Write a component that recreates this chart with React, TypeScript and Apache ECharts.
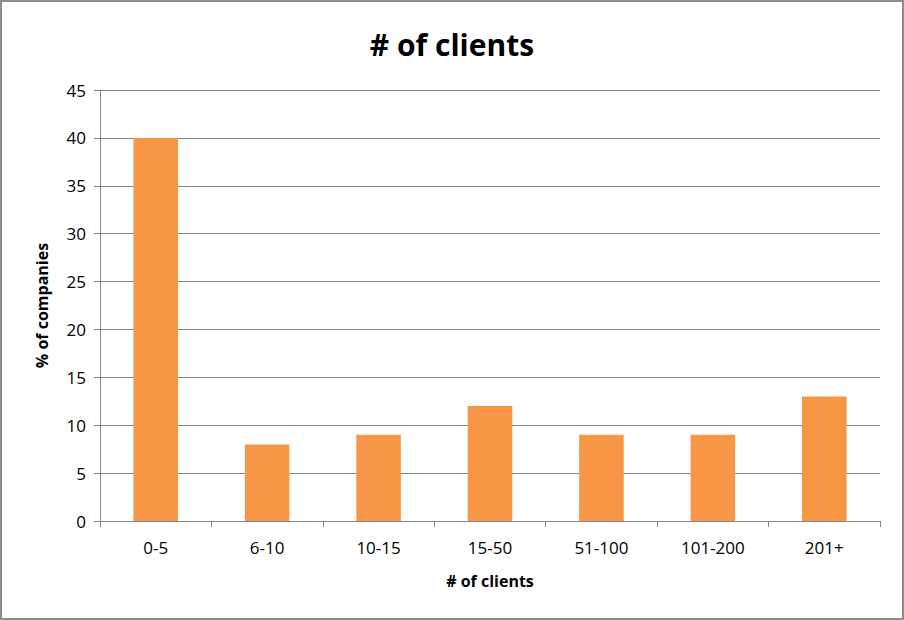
import React, { useEffect, useRef } from "react";
import * as echarts from "echarts";

const categories = ["0-5", "6-10", "10-15", "15-50", "51-100", "101-200", "201+"];
const percentValues = [40, 8, 9, 12, 9, 9, 13];

const App: React.FC = () => {
  const chartRef = useRef<HTMLDivElement | null>(null);

  useEffect(() => {
    const chartDom = chartRef.current;
    if (!chartDom) return;
    const myChart = echarts.init(chartDom, undefined, { renderer: "svg" });

    const font = "'Open Sans', 'Noto Sans', sans-serif";
    const gray = "#868686";

    const option = {
      animation: false,
      backgroundColor: "transparent",
      title: {
        text: "# of clients",
        left: "center",
        top: 24,
        textStyle: {
          fontFamily: font,
          fontSize: 30,
          fontWeight: "bold",
          color: "#000000",
        },
      },
      grid: {
        left: 100,
        right: 24,
        top: 90,
        bottom: 99,
        containLabel: false,
      },
      xAxis: {
        type: "category",
        data: categories,
        name: "# of clients",
        nameLocation: "middle",
        nameGap: 52,
        nameTextStyle: {
          fontFamily: font,
          fontSize: 16,
          fontWeight: "bold",
          color: "#000000",
        },
        axisLine: { lineStyle: { color: gray, width: 1 } },
        axisTick: { show: true, alignWithLabel: false, length: 6, lineStyle: { color: gray } },
        axisLabel: {
          fontFamily: font,
          fontSize: 17,
          color: "#000000",
          margin: 18,
        },
      },
      yAxis: {
        type: "value",
        min: 0,
        max: 45,
        interval: 5,
        name: "% of companies",
        nameLocation: "middle",
        nameGap: 50,
        nameRotate: 90,
        nameTextStyle: {
          fontFamily: font,
          fontSize: 16,
          fontWeight: "bold",
          color: "#000000",
        },
        axisLine: { show: true, lineStyle: { color: gray, width: 1 } },
        axisTick: { show: true, length: 6, lineStyle: { color: gray } },
        axisLabel: {
          fontFamily: font,
          fontSize: 17,
          color: "#000000",
          margin: 14,
        },
        splitLine: { show: true, lineStyle: { color: gray, width: 1 } },
      },
      series: [
        {
          type: "bar",
          data: percentValues,
          barWidth: "40%",
          itemStyle: { color: "#F79646" },
        },
      ],
    };

    myChart.setOption(option);

    return () => {
      myChart.dispose();
    };
  }, []);

  return (
    <div
      style={{
        position: "fixed",
        top: 0,
        left: 0,
        width: 904,
        height: 620,
        boxSizing: "border-box",
        border: "2px solid #8c8c8c",
        background: "#ffffff",
      }}
    >
      <div
        ref={chartRef}
        style={{
          position: "absolute",
          top: -2,
          left: -2,
          width: 904,
          height: 620,
        }}
      />
    </div>
  );
};

export default App;
